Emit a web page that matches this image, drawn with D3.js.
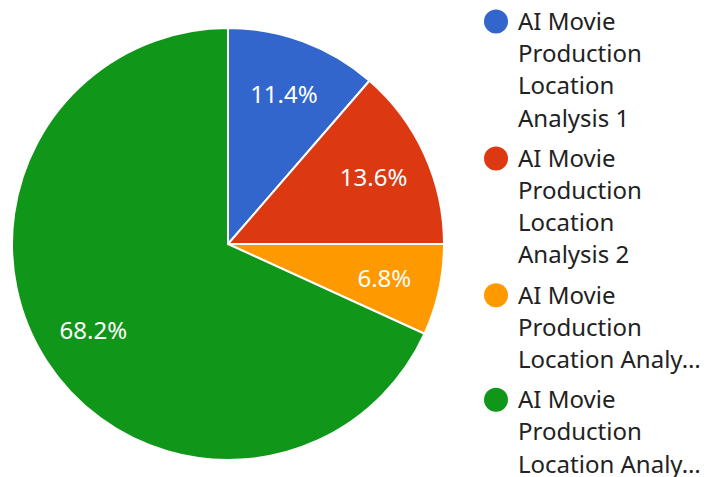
<!DOCTYPE html>
<html>
<head>
<meta charset="utf-8">
<script src="https://cdn.jsdelivr.net/npm/d3@7"></script>
<style>
  html, body { margin: 0; padding: 0; background: #fff; }
  svg { display: block; font-family: "Noto Sans", "Open Sans", sans-serif; }
</style>
</head>
<body>
<svg id="chart" width="707" height="477"></svg>
<script>
const categories = [
  "AI Movie Production Location Analysis 1",
  "AI Movie Production Location Analysis 2",
  "AI Movie Production Location Analysis 3",
  "AI Movie Production Location Analysis 4"
];
const legendLines = [
  ["AI Movie", "Production", "Location", "Analysis 1"],
  ["AI Movie", "Production", "Location", "Analysis 2"],
  ["AI Movie", "Production", "Location Analy\u2026"],
  ["AI Movie", "Production", "Location Analy\u2026"]
];
const values = [5, 6, 3, 30];
const colors = ["#3366cc", "#dc3912", "#ff9900", "#109618"];

const svg = d3.select("#chart");
const cx = 228, cy = 244, R = 216, labelR = 160;

const total = d3.sum(values);
const pie = d3.pie().sort(null).value(d => d)(values);
const arc = d3.arc().innerRadius(0).outerRadius(R);
const labelArc = d3.arc().innerRadius(labelR).outerRadius(labelR);

const g = svg.append("g").attr("transform", `translate(${cx},${cy})`);
g.selectAll("path.slice").data(pie).enter().append("path")
  .attr("class", "slice")
  .attr("d", arc)
  .attr("fill", (d, i) => colors[i])
  .attr("stroke", "#ffffff")
  .attr("stroke-width", 2);

g.selectAll("text.lbl").data(pie).enter().append("text")
  .attr("class", "lbl")
  .attr("transform", d => `translate(${labelArc.centroid(d)})`)
  .attr("text-anchor", "middle")
  .attr("dy", "0.36em")
  .attr("fill", "#ffffff")
  .attr("font-size", 24)
  .text(d => (d.value / total * 100).toFixed(1) + "%");

// Legend
const lx = 496, tx = 518, lineH = 32.2, gap = 8;
let y = 30;
const legend = svg.append("g");
categories.forEach((c, i) => {
  const item = legend.append("g");
  item.append("title").text(c);
  item.append("circle").attr("cx", lx).attr("cy", y - 8.4).attr("r", 12).attr("fill", colors[i]);
  legendLines[i].forEach((line, j) => {
    item.append("text")
      .attr("x", tx).attr("y", y + j * lineH)
      .attr("font-size", 24)
      .attr("fill", "#222222")
      .text(line);
  });
  y += legendLines[i].length * lineH + gap;
});
</script>
</body>
</html>
